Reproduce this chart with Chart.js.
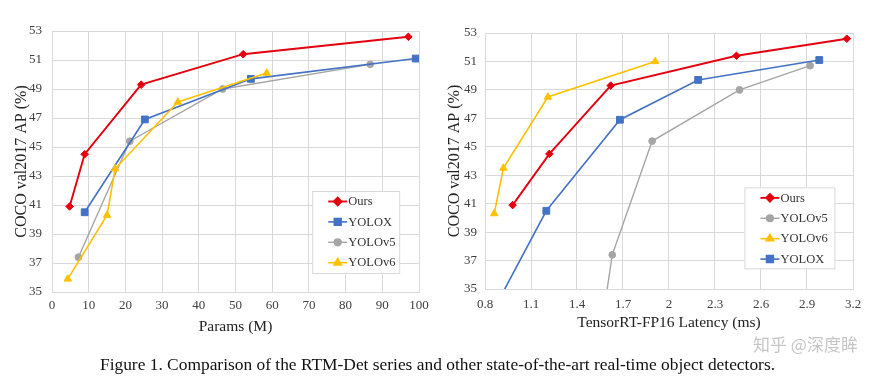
<!DOCTYPE html>
<html>
<head>
<meta charset="utf-8">
<script src="https://cdn.jsdelivr.net/npm/chart.js@4.4.0/dist/chart.umd.min.js"></script>
<style>
  body { margin: 0; background: #fff; }
  #page { position: relative; width: 875px; height: 377px; overflow: hidden; background: #fff; }
  .box { position: absolute; top: 0; height: 340px; }
  #caption { position: absolute; left: 0; width: 875px; top: 354px; text-align: center; white-space: nowrap;
    font-family: "Liberation Serif", serif; font-size: 17.4px; color: #111; }
  #mark { position: absolute; left: 753px; top: 332px; font-family: "Noto Sans CJK SC", sans-serif;
    font-size: 17px; line-height: 24px; color: rgba(140,140,140,0.5); white-space: nowrap; }
</style>
</head>
<body>
<div id="page">
  <div class="box" style="left:0;width:437px"><canvas id="leftChart"></canvas></div>
  <div class="box" style="left:437px;width:438px"><canvas id="rightChart"></canvas></div>
  <div id="mark">知乎 @深度眸</div>
  <div id="caption">Figure 1. Comparison of the RTM-Det series and other state-of-the-art real-time object detectors.</div>
</div>
<script>
// --- data: params (M) vs AP ---
const paramsOurs = [4.8, 8.9, 24.3, 52.1, 97.1];
const apOursP = [40.9, 44.5, 49.3, 51.4, 52.6];
const paramsYolox = [8.9, 25.3, 54.2, 99.1];
const apYoloxP = [40.5, 46.9, 49.7, 51.1];
const paramsYolov5 = [7.2, 21.2, 46.5, 86.7];
const apYolov5P = [37.4, 45.4, 49.0, 50.7];
const paramsYolov6 = [4.3, 15.0, 17.2, 34.3, 58.5];
const apYolov6P = [35.9, 40.3, 43.5, 48.1, 50.1];

// --- data: latency (ms) vs AP ---
const latOurs = [0.98, 1.22, 1.62, 2.44, 3.16];
const apOursL = [40.9, 44.5, 49.3, 51.4, 52.6];
const latYolov5 = [1.5, 1.63, 1.89, 2.46, 2.92];
const apYolov5L = [28.0, 37.4, 45.4, 49.0, 50.7];
const latYolov6 = [0.86, 0.92, 1.21, 1.91];
const apYolov6L = [40.3, 43.5, 48.5, 51.0];
const latYolox = [0.82, 1.2, 1.68, 2.19, 2.98];
const apYoloxL = [32.8, 40.5, 46.9, 49.7, 51.1];

// tick labels
const paramTicks = [0, 10, 20, 30, 40, 50, 60, 70, 80, 90, 100];
const latTicks = [0.8, 1.1, 1.4, 1.7, 2, 2.3, 2.6, 2.9, 3.2];
const apTicks = [35, 37, 39, 41, 43, 45, 47, 49, 51, 53];

const RED = '#E3000F', BLUE = '#4472C4', GRAY = '#A5A5A5', GOLD = '#FFC000';
const serif = '"Liberation Serif", "Times New Roman", serif';

function pts(xs, ys) { return xs.map((x, i) => ({ x: x, y: ys[i] })); }

function series(label, xs, ys, color, style, radius, width, extra) {
  return Object.assign({
    label: label, data: pts(xs, ys), borderColor: color, backgroundColor: color,
    borderWidth: width, pointStyle: style, pointRadius: radius, pointBorderWidth: 1,
    tension: 0, showLine: true
  }, extra || {});
}

// legend drawn inside the plot (box placed as fraction of chart area)
const boxLegend = {
  id: 'boxLegend',
  afterDraw(chart, args, opts) {
    const a = chart.chartArea, ctx = chart.ctx;
    const bx = a.left + opts.fx * (a.right - a.left);
    const by = a.top + opts.fy * (a.bottom - a.top);
    ctx.save();
    ctx.fillStyle = '#fff';
    ctx.fillRect(bx, by, opts.w, opts.h);
    ctx.strokeStyle = '#d9d9d9';
    ctx.lineWidth = 1;
    ctx.strokeRect(bx + 0.5, by + 0.5, opts.w, opts.h);
    opts.order.forEach((idx, row) => {
      const ds = chart.data.datasets[idx];
      const y = by + 10.5 + row * 20.4;
      const x0 = bx + 16, x1 = bx + 35;
      ctx.strokeStyle = ds.borderColor;
      ctx.lineWidth = ds.borderWidth;
      ctx.beginPath(); ctx.moveTo(x0, y); ctx.lineTo(x1, y); ctx.stroke();
      ctx.fillStyle = ds.backgroundColor;
      Chart.helpers.drawPoint(ctx, { pointStyle: ds.pointStyle, radius: ds.pointRadius, borderWidth: 1, rotation: 0 }, (x0 + x1) / 2, y);
      ctx.fillStyle = '#333';
      ctx.font = '12.5px ' + serif;
      ctx.textBaseline = 'middle';
      ctx.fillText(ds.label, x1 + 1, y + 0.5);
    });
    ctx.restore();
  }
};

function makeChart(id, datasets, xTicks, xTitle, lay) {
  return new Chart(document.getElementById(id), {
    type: 'scatter',
    data: { datasets: datasets },
    plugins: [boxLegend],
    options: {
      responsive: true,
      maintainAspectRatio: false,
      animation: false,
      layout: { padding: { top: lay.top, right: lay.right, left: 0, bottom: 0 } },
      scales: {
        x: {
          type: 'linear', min: xTicks[0], max: xTicks[xTicks.length - 1],
          afterBuildTicks: s => { s.ticks = xTicks.map(v => ({ value: v })); },
          afterFit: s => { s.height = lay.xh; },
          grid: { color: '#d9d9d9', drawTicks: false },
          border: { color: '#d9d9d9' },
          ticks: { padding: lay.xpad, color: '#404040', font: { family: serif, size: 13 }, maxRotation: 0,
                   callback: v => String(v) },
          title: { display: true, text: xTitle, color: '#222', font: { family: serif, size: 15.5 },
                   padding: { top: 0, bottom: lay.xtb } }
        },
        y: {
          min: 35, max: 53,
          afterBuildTicks: s => { s.ticks = apTicks.map(v => ({ value: v })); },
          afterFit: s => { s.width = lay.yw; },
          grid: { color: '#d9d9d9', drawTicks: false },
          border: { color: '#d9d9d9' },
          ticks: { padding: lay.ypad, color: '#404040', font: { family: serif, size: 13 } },
          title: { display: true, text: 'COCO val2017 AP (%)', color: '#222', font: { family: serif, size: 16 },
                   padding: { top: lay.ytp, bottom: 0 } }
        }
      },
      plugins: {
        legend: { display: false },
        tooltip: { enabled: false },
        boxLegend: lay.legend
      }
    }
  });
}

makeChart('leftChart', [
  series('Ours', paramsOurs, apOursP, RED, 'rectRot', 3.8, 1.9, { order: 0 }),
  series('YOLOX', paramsYolox, apYoloxP, BLUE, 'rect', 4.8, 1.6, { order: 2 }),
  series('YOLOv5', paramsYolov5, apYolov5P, GRAY, 'circle', 3.4, 1.4, { order: 3 }),
  series('YOLOv6', paramsYolov6, apYolov6P, GOLD, 'triangle', 4.3, 1.6, { order: 1 })
], paramTicks, 'Params (M)', {
  top: 31, right: 18, xh: 48, yw: 52, xpad: 6, xtb: 4, ypad: 10, ytp: 12,
  legend: { fx: 0.709, fy: 0.613, w: 87, h: 82, order: [0, 1, 2, 3] }
});

makeChart('rightChart', [
  series('Ours', latOurs, apOursL, RED, 'rectRot', 3.8, 1.9, { order: 0 }),
  series('YOLOv5', latYolov5, apYolov5L, GRAY, 'circle', 3.4, 1.4, { order: 3, clip: 0 }),
  series('YOLOv6', latYolov6, apYolov6L, GOLD, 'triangle', 4.3, 1.6, { order: 1 }),
  series('YOLOX', latYolox, apYoloxL, BLUE, 'rect', 4.8, 1.6, { order: 2, clip: 0 })
], latTicks, 'TensorRT-FP16 Latency (ms)', {
  top: 33, right: 22, xh: 51, yw: 48, xpad: 8, xtb: 8, ypad: 8, ytp: 8,
  legend: { fx: 0.705, fy: 0.603, w: 90, h: 81, order: [0, 1, 2, 3] }
});
</script>
</body>
</html>
